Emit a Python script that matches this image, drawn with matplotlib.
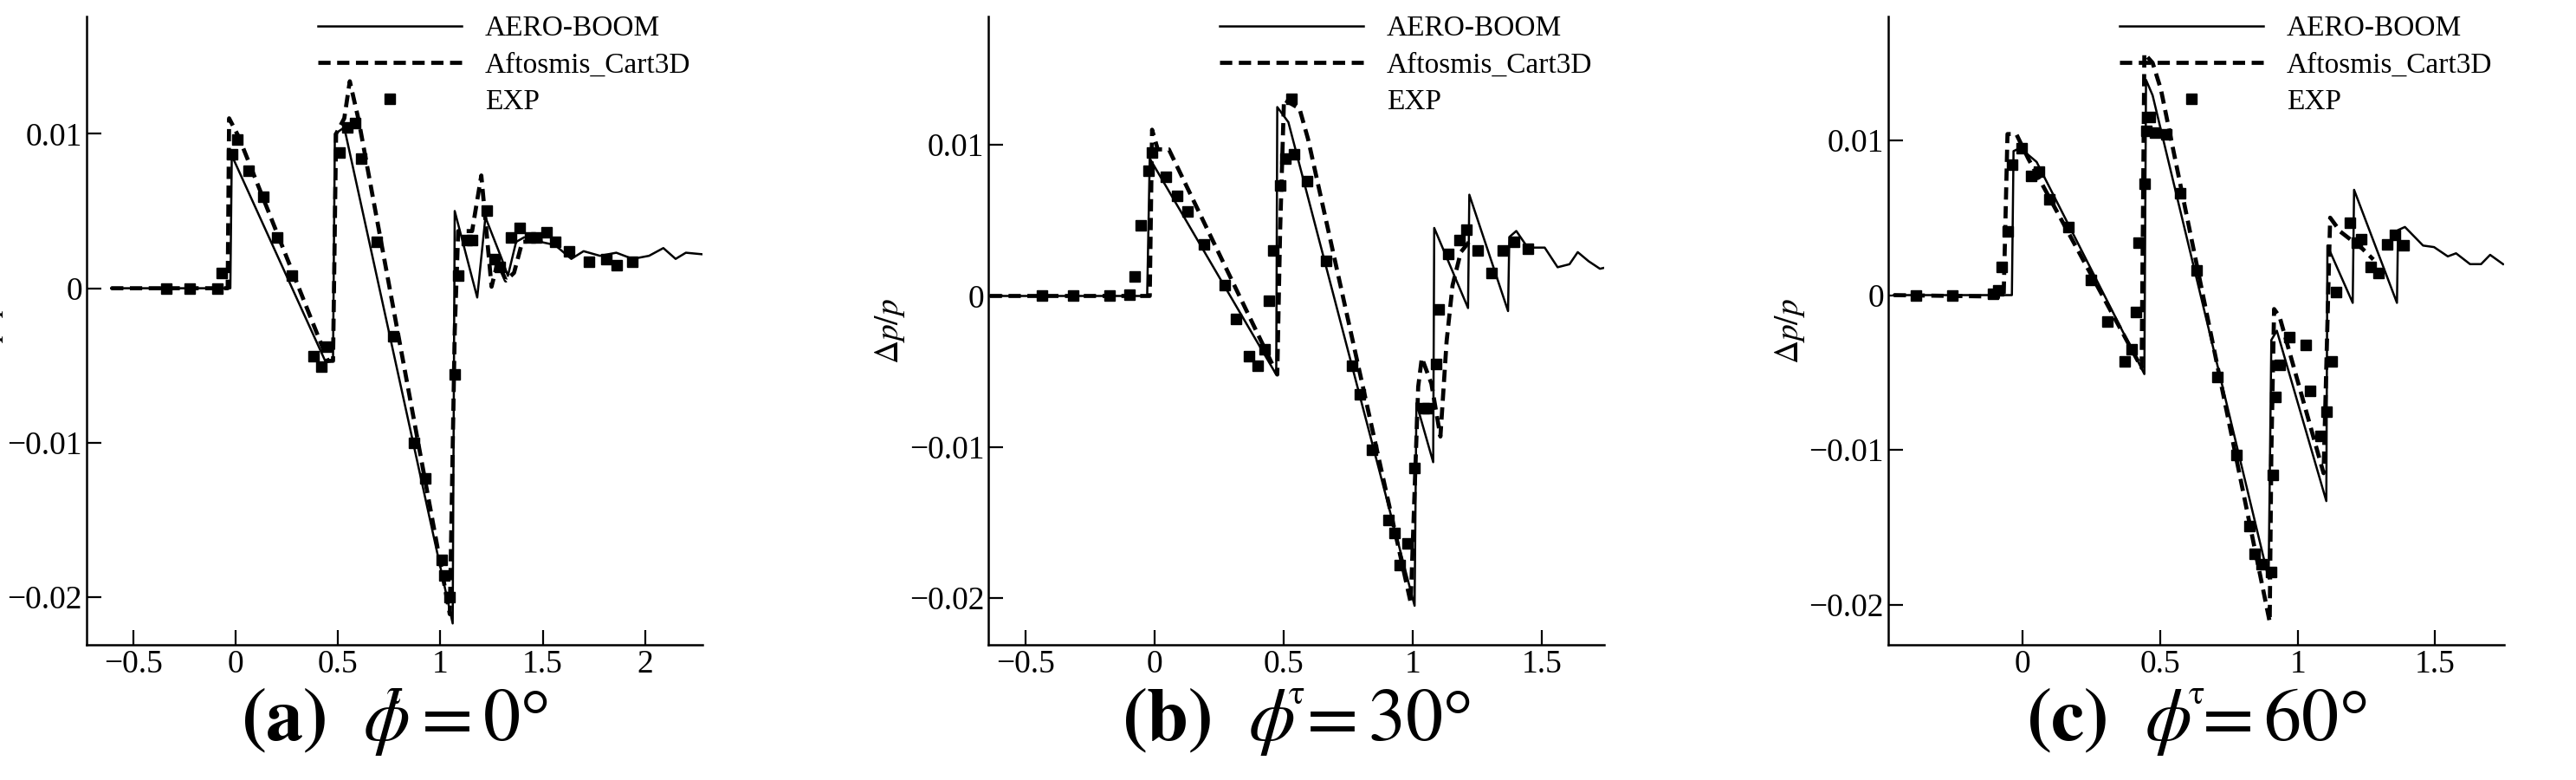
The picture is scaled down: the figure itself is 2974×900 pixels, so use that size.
import matplotlib
matplotlib.use("Agg")
import matplotlib.pyplot as plt

plt.rcParams['font.family'] = ['Liberation Serif', 'DejaVu Serif']
plt.rcParams['mathtext.fontset'] = 'stix'

# ---- phi = 0 ----
aero_a_x = [-0.61, -0.027, -0.02, 0.44, 0.475, 0.484, 0.53, 1.06, 1.07, 1.18, 1.22, 1.30, 1.33, 1.37, 1.41,
            1.49, 1.56, 1.64, 1.70, 1.78, 1.86, 1.94, 2.02, 2.09, 2.15, 2.20, 2.28]
aero_a_y = [0, 0, 0.0086, -0.0048, -0.0047, 0.0100, 0.0104, -0.0217, 0.0050, -0.0006, 0.0046, 0.0019, 0.0008,
            0.0030, 0.0033, 0.0030, 0.0028, 0.0019, 0.0024, 0.0021, 0.0023, 0.0019, 0.0021, 0.0026, 0.0019, 0.0023, 0.0022]
cart_a_x = [-0.61, -0.04, -0.033, 0.014, 0.45, 0.475, 0.49, 0.53, 0.557, 0.60, 1.046, 1.07, 1.087, 1.155,
            1.20, 1.25, 1.28, 1.32, 1.36, 1.40, 1.50]
cart_a_y = [0, 0, 0.0110, 0.0098, -0.0047, -0.0047, 0.0100, 0.0110, 0.0134, 0.0109, -0.0211, -0.0028, 0.0037,
            0.0037, 0.0073, 0.0001, 0.0017, 0.0005, 0.0010, 0.0030, 0.0031]
exp_a_x = [-0.34, -0.225, -0.09, -0.068, -0.019, 0.008, 0.063, 0.136, 0.204, 0.272, 0.38, 0.416, 0.443, 0.508,
           0.543, 0.584, 0.611, 0.688, 0.769, 0.87, 0.924, 1.005, 1.019, 1.046, 1.068, 1.087, 1.128, 1.155, 1.228,
           1.264, 1.29, 1.345, 1.386, 1.44, 1.467, 1.52, 1.56, 1.63, 1.725, 1.81, 1.86, 1.94]
exp_a_y = [0, 0, 0, 0.001, 0.0087, 0.0096, 0.0076, 0.0059, 0.0033, 0.0008, -0.0044, -0.0051, -0.0038, 0.0088,
           0.0104, 0.0107, 0.0084, 0.0030, -0.0031, -0.0100, -0.0123, -0.0176, -0.0186, -0.0200, -0.0056, 0.0008,
           0.0031, 0.0031, 0.0050, 0.0019, 0.0014, 0.0033, 0.0039, 0.0033, 0.0033, 0.0036, 0.0030, 0.0024, 0.0017,
           0.0019, 0.0015, 0.0017]

# ---- phi = 30 ----
aero_b_x = [-0.64, -0.03, -0.02, 0.47, 0.474, 0.517, 1.006, 1.013, 1.078, 1.082, 1.213, 1.218, 1.368, 1.373,
            1.40, 1.444, 1.476, 1.51, 1.56, 1.606, 1.638, 1.68, 1.724, 1.75]
aero_b_y = [0, 0, 0.0091, -0.0052, 0.0125, 0.0115, -0.0205, -0.0071, -0.0110, 0.0045, -0.0008, 0.0067, -0.0010,
            0.0039, 0.0043, 0.0032, 0.0032, 0.0032, 0.0019, 0.0021, 0.0029, 0.0023, 0.0018, 0.0019]
cart_b_x = [-0.64, -0.02, -0.011, 0.011, 0.054, 0.474, 0.485, 0.50, 0.56, 0.593, 0.991, 1.02, 1.034, 1.071,
            1.106, 1.13, 1.153, 1.185, 1.218]
cart_b_y = [0, 0, 0.0110, 0.0097, 0.0097, -0.0052, 0.0043, 0.0130, 0.0124, 0.0104, -0.0203, -0.0060, -0.0041,
            -0.0058, -0.0093, -0.0030, 0.0007, 0.0029, 0.0036]
exp_b_x = [-0.4375, -0.317, -0.177, -0.097, -0.08, -0.054, -0.026, -0.011, 0.043, 0.086, 0.125, 0.19, 0.27,
           0.313, 0.366, 0.399, 0.425, 0.442, 0.459, 0.485, 0.506, 0.539, 0.588, 0.662, 0.765, 0.793, 0.84, 0.905,
           0.927, 0.948, 0.98, 1.006, 1.041, 1.056, 1.088, 1.099, 1.138, 1.179, 1.207, 1.25, 1.304, 1.347, 1.39, 1.444]
exp_b_y = [0, 0, 0, 0.0001, 0.0013, 0.0047, 0.0083, 0.0095, 0.0079, 0.0066, 0.0056, 0.0034, 0.0007, -0.0015,
           -0.0040, -0.0046, -0.0035, -0.0003, 0.0030, 0.0073, 0.0091, 0.0094, 0.0076, 0.0023, -0.0046, -0.0065,
           -0.0102, -0.0148, -0.0157, -0.0178, -0.0164, -0.0114, -0.0074, -0.0074, -0.0045, -0.0009, 0.0028,
           0.0037, 0.0044, 0.0030, 0.0015, 0.0030, 0.0036, 0.0031]

# ---- phi = 60 ----
aero_c_x = [-0.47, -0.04, -0.034, -0.01, 0.05, 0.442, 0.448, 0.472, 0.894, 0.904, 0.924, 1.104, 1.108, 1.20,
            1.205, 1.361, 1.365, 1.39, 1.456, 1.496, 1.546, 1.576, 1.627, 1.667, 1.70, 1.747]
aero_c_y = [0, 0, 0.0093, 0.0095, 0.0086, -0.0051, 0.0139, 0.0129, -0.0183, -0.0029, -0.0023, -0.0133, 0.0032,
            -0.0005, 0.0068, -0.0005, 0.0042, 0.0044, 0.0032, 0.0031, 0.0025, 0.0027, 0.0020, 0.0020, 0.0026, 0.0020]
cart_c_x = [-0.47, -0.07, -0.056, -0.024, 0.02, 0.432, 0.442, 0.472, 0.502, 0.898, 0.904, 0.914, 0.934, 1.094,
            1.118, 1.155, 1.235, 1.275]
cart_c_y = [0, -0.0001, 0.0104, 0.0104, 0.0088, -0.0047, 0.0156, 0.0150, 0.0133, -0.0211, -0.0102, -0.0009,
            -0.0014, -0.0115, 0.0050, 0.0041, 0.0030, 0.0023]
exp_c_x = [-0.39, -0.257, -0.11, -0.09, -0.076, -0.056, -0.04, -0.006, 0.03, 0.06, 0.096, 0.167, 0.247, 0.307,
           0.371, 0.396, 0.412, 0.422, 0.442, 0.448, 0.462, 0.482, 0.522, 0.572, 0.633, 0.709, 0.777, 0.823, 0.843,
           0.869, 0.904, 0.91, 0.918, 0.934, 0.97, 1.03, 1.044, 1.084, 1.104, 1.124, 1.14, 1.19, 1.215, 1.231, 1.265,
           1.295, 1.325, 1.355, 1.386]
exp_c_y = [0, 0, 0.0001, 0.0003, 0.0018, 0.0041, 0.0084, 0.0095, 0.0077, 0.0080, 0.0062, 0.0044, 0.0010, -0.0017,
           -0.0043, -0.0035, -0.0011, 0.0034, 0.0072, 0.0106, 0.0115, 0.0105, 0.0104, 0.0066, 0.0016, -0.0053,
           -0.0103, -0.0149, -0.0167, -0.0174, -0.0179, -0.0116, -0.0066, -0.0045, -0.0027, -0.0032, -0.0062,
           -0.0091, -0.0075, -0.0043, 0.0002, 0.0047, 0.0034, 0.0036, 0.0018, 0.0014, 0.0033, 0.0039, 0.0032]

panels = [
    (aero_a_x, aero_a_y, cart_a_x, cart_a_y, exp_a_x, exp_a_y, (-0.73, 2.28), (-0.0231, 0.0176),
     [-0.5, 0, 0.5, 1, 1.5, 2], r"$\mathbf{(a)}\ \ \phi = 0$°"),
    (aero_b_x, aero_b_y, cart_b_x, cart_b_y, exp_b_x, exp_b_y, (-0.645, 1.74), (-0.0231, 0.0185),
     [-0.5, 0, 0.5, 1, 1.5], r"$\mathbf{(b)}\ \ \phi = 30$°"),
    (aero_c_x, aero_c_y, cart_c_x, cart_c_y, exp_c_x, exp_c_y, (-0.49, 1.75), (-0.0226, 0.018),
     [0, 0.5, 1, 1.5], r"$\mathbf{(c)}\ \ \phi = 60$°"),
]
lefts = [0.0336, 0.3837, 0.733]

fig = plt.figure(figsize=(29.74, 9), dpi=100)
for left, (ax_x, ax_y, cx, cy, ex, ey, xlim, ylim, xt, cap) in zip(lefts, panels):
    ax = fig.add_axes([left, 0.173, 0.239, 0.806])
    ax.plot(ax_x, ax_y, color='black', lw=1.8, label='AERO-BOOM')
    ax.plot(cx, cy, color='black', lw=3.4, ls=(0, (3, 1.6)), label='Aftosmis_Cart3D')
    ax.plot(ex, ey, 's', color='black', ms=8, ls='none', label='EXP')
    ax.set_xlim(*xlim)
    ax.set_ylim(*ylim)
    ax.set_xticks(xt)
    ax.set_xticklabels(['\u22120.5' if v == -0.5 else f"{v:g}" for v in xt])
    ax.set_yticks([-0.02, -0.01, 0, 0.01])
    ax.set_yticklabels(['\u22120.02', '\u22120.01', '0', '0.01'])
    for s in ['top', 'right']:
        ax.spines[s].set_visible(False)
    ax.spines['left'].set_linewidth(1.8)
    ax.spines['bottom'].set_linewidth(1.8)
    ax.tick_params(direction='in', length=12, width=1.6, labelsize=27)
    ax.set_xlabel(r'$\mathrm{\tau}$', fontsize=28, labelpad=0)
    ax.set_ylabel(r'$\Delta p/p$', fontsize=27, labelpad=2)
    ax.legend(loc='upper right', frameon=False, fontsize=24, handlelength=5, borderaxespad=0.0,
              labelspacing=0.35, bbox_to_anchor=(1.0, 1.02))
    fig.text(left + 0.1195, 0.075, cap, ha='center', va='center', fontsize=62)

fig.savefig('out.png', dpi=100)
